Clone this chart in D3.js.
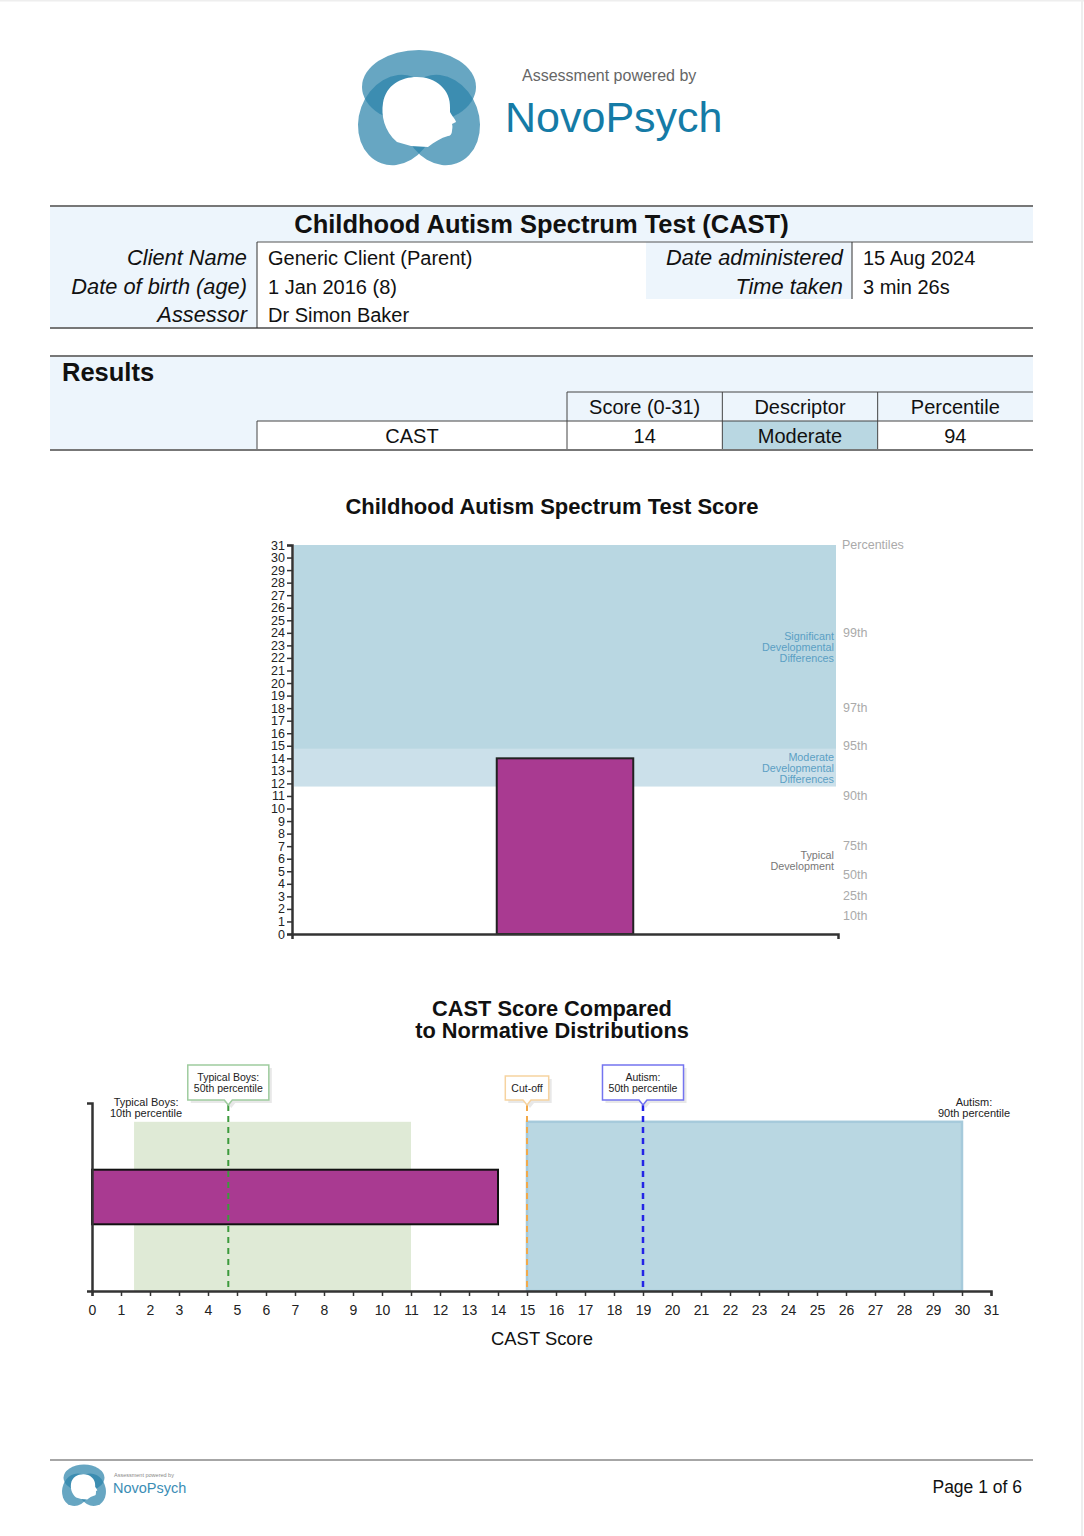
<!DOCTYPE html>
<html>
<head>
<meta charset="utf-8">
<script src="https://cdn.jsdelivr.net/npm/d3@7"></script>
<style>
  body { margin: 0; background: #fff; }
  svg text { font-family: "Liberation Sans", Arial, Helvetica, sans-serif; }
</style>
</head>
<body>
<script>
// ---- data ----
var reportTitle = "Childhood Autism Spectrum Test (CAST)";
var leftLabels = ["Client Name", "Date of birth (age)", "Assessor"];
var leftValues = ["Generic Client (Parent)", "1 Jan 2016 (8)", "Dr Simon Baker"];
var rightLabels = ["Date administered", "Time taken"];
var rightValues = ["15 Aug 2024", "3 min 26s"];

var resultColumns = ["Score (0-31)", "Descriptor", "Percentile"];
var measureNames = ["CAST"];
var resultRow = ["14", "Moderate", "94"];

var scoreMax = 31;
var clientScore = 14;

// chart 1 bands
var bandNames = ["Typical Development", "Moderate Developmental Differences", "Significant Developmental Differences"];
var bandLo = [0, 11.75, 14.75];
var bandHi = [11.75, 14.75, 31];
var percentileLabels = ["10th", "25th", "50th", "75th", "90th", "95th", "97th", "99th"];
var percentileScores = [1.45, 3, 4.7, 7, 11, 15, 18, 24];

// chart 2 normative distributions
var normNames = ["Typical Boys", "Autism"];
var normLo = [1.45, 15];
var normHi = [11, 30];
var edgeLabels = [["Typical Boys:", "10th percentile"], ["Autism:", "90th percentile"]];
var edgeValues = [1.45, 30];
var markerLabels = [["Typical Boys:", "50th percentile"], ["Cut-off"], ["Autism:", "50th percentile"]];
var markerValues = [4.7, 15, 19];

// ---- styles ----
var lightBlue = "#edf5fc";
var descriptorBlue = "#b9d7e2";
var barColor = "#a93a91";
var bandFills = ["none", "#cbe0ea", "#b9d7e2"];
var bandTextColors = ["#777", "#5b9fc4", "#5b9fc4"];
var normFills = ["#dfead6", "#b9d7e2"];
var normStrokes = ["none", "#a6cadb"];
var markerStrokes = ["#3c9a3c", "#f2a94a", "#2424e6"];
var markerBorders = ["#9fcc9f", "#f6d3a0", "#7474f0"];

var W = 1084, H = 1536;
var svg = d3.select("body").append("svg").attr("width", W).attr("height", H);

// page edge
svg.append("line").attr("x1", 0).attr("x2", W).attr("y1", 0.5).attr("y2", 0.5).attr("stroke", "#eee").attr("stroke-width", 2);
svg.append("line").attr("x1", W - 2).attr("x2", W - 2).attr("y1", 0).attr("y2", H).attr("stroke", "#eee").attr("stroke-width", 2);

// ---- logo ----
function drawLogo(g) {
  var ell = [[0, -20, 57, 37, 0], [-22, 13, 38, 46, 20], [22, 13, 38, 46, -20]];
  g.selectAll("ellipse").data(ell).enter().append("ellipse")
    .attr("cx", 0).attr("cy", 0)
    .attr("rx", function(d) { return d[2]; })
    .attr("ry", function(d) { return d[3]; })
    .attr("transform", function(d) { return "translate(" + d[0] + "," + d[1] + ") rotate(" + d[4] + ")"; })
    .attr("fill", "#2c83aa").attr("fill-opacity", 0.72);
  g.append("path")
    .attr("d", "M-22,35 C-35,24 -38,8 -36,-4 C-33,-22 -18,-30 -2,-30 C17,-30 32,-17 31,1 L31,5 C33,9 37,13 37,15 L33,17 C34,20 33,22 33,24 C33,27 31,29 29,29 C22,31 15,35 9,40 L-8,39 Z")
    .attr("fill", "#fff");
}
var logo = svg.append("g").attr("transform", "translate(419,107)");
drawLogo(logo);
svg.append("text").attr("x", 522).attr("y", 81).attr("font-size", 16).attr("fill", "#666").text("Assessment powered by");
svg.append("text").attr("x", 505).attr("y", 132).attr("font-size", 43).attr("fill", "#157ba6").text("NovoPsych");

// ---- header table ----
var T = { left: 50, right: 1033, top: 206, row0: 242, rowH: 28.5, bottom: 328, split: 257, rsplitL: 646, rsplit: 852 };
svg.append("rect").attr("x", T.left).attr("y", T.top).attr("width", T.right - T.left).attr("height", T.row0 - T.top).attr("fill", lightBlue);
svg.append("rect").attr("x", T.left).attr("y", T.row0).attr("width", T.split - T.left).attr("height", T.bottom - T.row0).attr("fill", lightBlue);
svg.append("rect").attr("x", T.rsplitL).attr("y", T.row0).attr("width", T.rsplit - T.rsplitL).attr("height", T.rowH * rightLabels.length).attr("fill", lightBlue);
svg.append("line").attr("x1", T.left).attr("x2", T.right).attr("y1", T.top).attr("y2", T.top).attr("stroke", "#777").attr("stroke-width", 2);
svg.append("line").attr("x1", T.split).attr("x2", T.right).attr("y1", T.row0).attr("y2", T.row0).attr("stroke", "#555").attr("stroke-width", 1);
svg.append("line").attr("x1", T.left).attr("x2", T.right).attr("y1", T.bottom).attr("y2", T.bottom).attr("stroke", "#777").attr("stroke-width", 2);
svg.append("line").attr("x1", T.split).attr("x2", T.split).attr("y1", T.row0).attr("y2", T.bottom).attr("stroke", "#333").attr("stroke-width", 1);
svg.append("line").attr("x1", T.rsplit).attr("x2", T.rsplit).attr("y1", T.row0).attr("y2", T.row0 + T.rowH * rightLabels.length).attr("stroke", "#333").attr("stroke-width", 1);

svg.append("text").attr("x", (T.left + T.right) / 2).attr("y", 233).attr("text-anchor", "middle")
  .attr("font-size", 25.5).attr("font-weight", "bold").attr("fill", "#111").text(reportTitle);

function rowY(i) { return T.row0 + 23 + i * T.rowH; }
svg.selectAll("text.llab").data(leftLabels).enter().append("text").attr("class", "llab")
  .attr("x", T.split - 10).attr("y", function(d, i) { return rowY(i); })
  .attr("text-anchor", "end").attr("font-size", 21.8).attr("font-style", "italic").attr("fill", "#111").text(function(d) { return d; });
svg.selectAll("text.lval").data(leftValues).enter().append("text").attr("class", "lval")
  .attr("x", T.split + 11).attr("y", function(d, i) { return rowY(i); })
  .attr("font-size", 20).attr("fill", "#111").text(function(d) { return d; });
svg.selectAll("text.rlab").data(rightLabels).enter().append("text").attr("class", "rlab")
  .attr("x", T.rsplit - 9).attr("y", function(d, i) { return rowY(i); })
  .attr("text-anchor", "end").attr("font-size", 21.8).attr("font-style", "italic").attr("fill", "#111").text(function(d) { return d; });
svg.selectAll("text.rval").data(rightValues).enter().append("text").attr("class", "rval")
  .attr("x", T.rsplit + 11).attr("y", function(d, i) { return rowY(i); })
  .attr("font-size", 20).attr("fill", "#111").text(function(d) { return d; });

// ---- results table ----
var R = { top: 356, head: 392, row: 421, bottom: 450, nameX: 257 };
var colX = d3.scaleBand().domain(resultColumns).range([567, 1033]);
svg.append("rect").attr("x", T.left).attr("y", R.top).attr("width", T.right - T.left).attr("height", R.bottom - R.top).attr("fill", lightBlue);
svg.append("line").attr("x1", T.left).attr("x2", T.right).attr("y1", R.top).attr("y2", R.top).attr("stroke", "#777").attr("stroke-width", 2);
svg.append("text").attr("x", 62).attr("y", 381).attr("font-size", 25.5).attr("font-weight", "bold").attr("fill", "#111").text("Results");
svg.append("rect").attr("x", R.nameX).attr("y", R.row).attr("width", colX.range()[0] - R.nameX).attr("height", R.bottom - R.row).attr("fill", "#fff");
svg.selectAll("rect.rcell").data(resultRow).enter().append("rect").attr("class", "rcell")
  .attr("x", function(d, i) { return colX(resultColumns[i]); }).attr("y", R.row)
  .attr("width", colX.bandwidth()).attr("height", R.bottom - R.row)
  .attr("fill", function(d, i) { return i === 1 ? descriptorBlue : "#fff"; });
svg.append("line").attr("x1", colX.range()[0]).attr("x2", T.right).attr("y1", R.head).attr("y2", R.head).attr("stroke", "#444");
svg.append("line").attr("x1", R.nameX).attr("x2", T.right).attr("y1", R.row).attr("y2", R.row).attr("stroke", "#444");
svg.append("line").attr("x1", R.nameX).attr("x2", R.nameX).attr("y1", R.row).attr("y2", R.bottom).attr("stroke", "#444");
svg.selectAll("line.rsep").data(resultColumns).enter().append("line").attr("class", "rsep")
  .attr("x1", function(d) { return colX(d); }).attr("x2", function(d) { return colX(d); })
  .attr("y1", R.head).attr("y2", R.bottom).attr("stroke", "#444");
svg.append("line").attr("x1", T.left).attr("x2", T.right).attr("y1", R.bottom).attr("y2", R.bottom).attr("stroke", "#777").attr("stroke-width", 2);
svg.selectAll("text.rhead").data(resultColumns).enter().append("text").attr("class", "rhead")
  .attr("x", function(d) { return colX(d) + colX.bandwidth() / 2; }).attr("y", 414)
  .attr("text-anchor", "middle").attr("font-size", 20).attr("fill", "#111").text(function(d) { return d; });
svg.selectAll("text.rval2").data(resultRow).enter().append("text").attr("class", "rval2")
  .attr("x", function(d, i) { return colX(resultColumns[i]) + colX.bandwidth() / 2; }).attr("y", 443)
  .attr("text-anchor", "middle").attr("font-size", 20).attr("fill", "#111").text(function(d) { return d; });
svg.append("text").attr("x", (R.nameX + colX.range()[0]) / 2).attr("y", 443)
  .attr("text-anchor", "middle").attr("font-size", 20).attr("fill", "#111").text(measureNames[0]);

// ---- chart 1: score bar with descriptor bands ----
var c1 = { left: 294, right: 836, top: 545, bottom: 934 };
var y1 = d3.scaleLinear().domain([0, scoreMax]).range([c1.bottom, c1.top]);
var x1 = d3.scaleBand().domain(measureNames).range([c1.left - 2, c1.right + 2]).padding(0.6);
var g1 = svg.append("g");

g1.append("text").attr("x", 552).attr("y", 514).attr("text-anchor", "middle")
  .attr("font-size", 22).attr("font-weight", "bold").attr("fill", "#111").text("Childhood Autism Spectrum Test Score");

g1.selectAll("rect.band").data(bandNames).enter().append("rect").attr("class", "band")
  .attr("x", c1.left).attr("width", c1.right - c1.left)
  .attr("y", function(d, i) { return y1(bandHi[i]); })
  .attr("height", function(d, i) { return y1(bandLo[i]) - y1(bandHi[i]); })
  .attr("fill", function(d, i) { return bandFills[i]; });

g1.selectAll("rect.bar").data([clientScore]).enter().append("rect").attr("class", "bar")
  .attr("x", x1(measureNames[0])).attr("width", x1.bandwidth())
  .attr("y", function(d) { return y1(d); }).attr("height", function(d) { return y1(0) - y1(d); })
  .attr("fill", barColor).attr("stroke", "#222").attr("stroke-width", 2);

bandNames.forEach(function(name, i) {
  var words = name.split(" ");
  var cy = y1((bandLo[i] + bandHi[i]) / 2);
  g1.append("text").attr("text-anchor", "end").attr("font-size", 10.8).attr("fill", bandTextColors[i])
    .selectAll("tspan").data(words).enter().append("tspan")
    .attr("x", c1.right - 2)
    .attr("y", function(d, j) { return cy + (j - (words.length - 1) / 2) * 11; })
    .attr("dominant-baseline", "central").text(function(d) { return d; });
});

g1.selectAll("text.pct").data(percentileLabels).enter().append("text").attr("class", "pct")
  .attr("x", c1.right + 7).attr("y", function(d, i) { return y1(percentileScores[i]); })
  .attr("dominant-baseline", "central").attr("font-size", 12.5).attr("fill", "#aaa").text(function(d) { return d; });
g1.append("text").attr("x", c1.right + 6).attr("y", y1(scoreMax)).attr("dominant-baseline", "central")
  .attr("font-size", 12.5).attr("fill", "#aaa").text("Percentiles");

var yAxis1 = g1.append("g").attr("transform", "translate(" + (c1.left - 2) + ",0)")
  .call(d3.axisLeft(y1).tickValues(d3.range(0, scoreMax + 1)).tickSize(5).tickPadding(2));
var xAxis1 = g1.append("g").attr("transform", "translate(0," + c1.bottom + ")")
  .call(d3.axisBottom(x1).tickValues([]).tickSizeOuter(5));
[yAxis1, xAxis1].forEach(function(a) {
  a.select(".domain").attr("stroke", "#333").attr("stroke-width", 2.5);
  a.selectAll(".tick line").attr("stroke", "#333").attr("stroke-width", 1.5);
  a.selectAll(".tick text").attr("font-size", 12.5).attr("fill", "#222");
});

// ---- chart 2: score vs normative distributions ----
var c2 = { left: 92, right: 991, top: 1103, bottom: 1291 };
var x2 = d3.scaleLinear().domain([0, scoreMax]).range([c2.left, c2.right]);
var y2 = d3.scaleLinear().domain([0, 1]).range([c2.bottom, c2.top]);
var yb2 = d3.scaleBand().domain(measureNames).range([c2.bottom, c2.top]).padding(0.55);
var normTop = 0.9;
var g2 = svg.append("g");

g2.append("text").attr("text-anchor", "middle").attr("font-size", 21.8).attr("font-weight", "bold").attr("fill", "#111")
  .selectAll("tspan").data(["CAST Score Compared", "to Normative Distributions"]).enter().append("tspan")
  .attr("x", 552).attr("y", function(d, i) { return 1016 + i * 22; }).text(function(d) { return d; });

g2.selectAll("rect.norm").data(normNames).enter().append("rect").attr("class", "norm")
  .attr("x", function(d, i) { return x2(normLo[i]); })
  .attr("width", function(d, i) { return x2(normHi[i]) - x2(normLo[i]); })
  .attr("y", y2(normTop)).attr("height", y2(0) - y2(normTop))
  .attr("fill", function(d, i) { return normFills[i]; })
  .attr("stroke", function(d, i) { return normStrokes[i]; }).attr("stroke-width", 2.5);

g2.selectAll("rect.bar").data([clientScore]).enter().append("rect").attr("class", "bar")
  .attr("x", x2(0)).attr("width", function(d) { return x2(d) - x2(0); })
  .attr("y", yb2(measureNames[0])).attr("height", yb2.bandwidth())
  .attr("fill", barColor).attr("stroke", "#111").attr("stroke-width", 2);

// edge labels for 10th / 90th percentiles
edgeLabels.forEach(function(lines, i) {
  g2.append("text").attr("text-anchor", "middle").attr("font-size", 11).attr("fill", "#222")
    .selectAll("tspan").data(lines).enter().append("tspan")
    .attr("x", x2(edgeValues[i]) + 12)
    .attr("y", function(d, j) { return y2(normTop) - 20 + j * 11; })
    .attr("dominant-baseline", "central").text(function(d) { return d; });
});

// dashed marker lines with callout boxes
var boxBottom = c2.top - 3;
markerLabels.forEach(function(lines, i) {
  var x = x2(markerValues[i]);
  g2.append("line").attr("x1", x).attr("x2", x).attr("y1", boxBottom + 5).attr("y2", c2.bottom)
    .attr("stroke", markerStrokes[i]).attr("stroke-width", i === 2 ? 2.5 : 2).attr("stroke-dasharray", "6,5");
  var t = g2.append("text").attr("text-anchor", "middle").attr("font-size", 10.5).attr("fill", "#222");
  var top = boxBottom - (lines.length * 11 + 13);
  t.selectAll("tspan").data(lines).enter().append("tspan")
    .attr("x", x).attr("y", function(d, j) { return top + 12 + j * 11; })
    .attr("dominant-baseline", "central").text(function(d) { return d; });
  var w = t.node().getBBox().width + 12;
  var x0 = x - w / 2, x1b = x + w / 2;
  var p = "M" + x0 + "," + top + "H" + x1b + "V" + boxBottom + "H" + (x + 4) + "L" + x + "," + (boxBottom + 5) +
    "L" + (x - 4) + "," + boxBottom + "H" + x0 + "Z";
  g2.insert("path", function() { return t.node(); }).attr("d", p).attr("transform", "translate(3,3)")
    .attr("fill", "#d8d8d8").attr("fill-opacity", 0.6);
  g2.insert("path", function() { return t.node(); }).attr("d", p)
    .attr("fill", "#fff").attr("stroke", markerBorders[i]).attr("stroke-width", 1.5);
});

var xAxis2 = g2.append("g").attr("transform", "translate(0," + c2.bottom + ")")
  .call(d3.axisBottom(x2).tickValues(d3.range(0, scoreMax + 1)).tickSize(5).tickPadding(9));
var yAxis2 = g2.append("g").attr("transform", "translate(" + c2.left + ",0)")
  .call(d3.axisLeft(y2).tickValues([]).tickSizeOuter(5));
[xAxis2, yAxis2].forEach(function(a) {
  a.select(".domain").attr("stroke", "#333").attr("stroke-width", 2.5);
  a.selectAll(".tick line").attr("stroke", "#333").attr("stroke-width", 1.5);
  a.selectAll(".tick text").attr("font-size", 14).attr("fill", "#222");
});
g2.append("text").attr("x", 542).attr("y", 1345).attr("text-anchor", "middle").attr("font-size", 18.4).attr("fill", "#111").text("CAST Score");

// ---- footer ----
svg.append("line").attr("x1", T.left).attr("x2", T.right).attr("y1", 1460).attr("y2", 1460).attr("stroke", "#888").attr("stroke-width", 1.5);
var smallLogo = svg.append("g").attr("transform", "translate(84,1485) scale(0.36)");
drawLogo(smallLogo);
svg.append("text").attr("x", 114).attr("y", 1477).attr("font-size", 5.5).attr("fill", "#888").text("Assessment powered by");
svg.append("text").attr("x", 113).attr("y", 1493).attr("font-size", 14.5).attr("fill", "#3b8db5").text("NovoPsych");
svg.append("text").attr("x", 1022).attr("y", 1493).attr("text-anchor", "end").attr("font-size", 17.5).attr("fill", "#111").text("Page 1 of 6");
</script>
</body>
</html>
